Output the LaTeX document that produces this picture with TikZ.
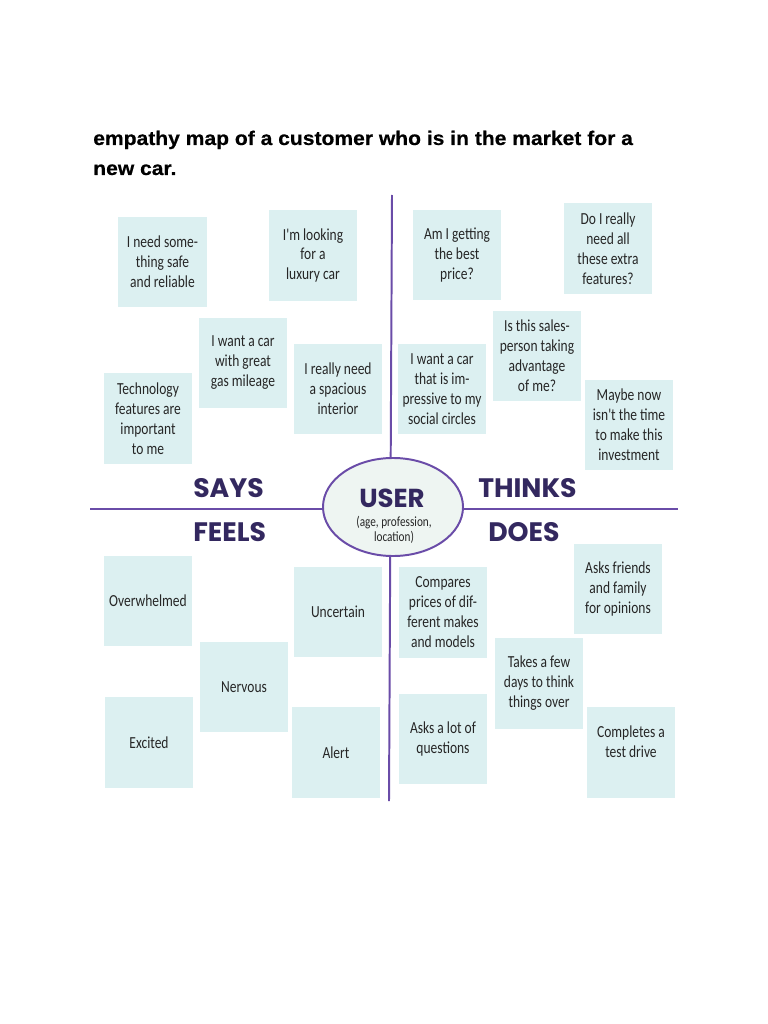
\documentclass[tikz,border=0pt]{standalone}
\usepackage{fontspec}
\setmainfont{Liberation Sans}
\newfontfamily\titlefont{Liberation Sans}[FakeStretch=1.07, BoldFeatures={FakeBold=0.5}]
\newfontfamily\handfont{Carlito}[FakeStretch=0.8]
\newfontfamily\headfont{Poppins}
\usepackage{tikz}
\usetikzlibrary{positioning, shapes.geometric}
\definecolor{empInk}{HTML}{262626}
\definecolor{empPurple}{HTML}{6A4CA8}
\definecolor{empNavy}{HTML}{33285F}
\definecolor{empNote}{HTML}{DCF0F1}
\definecolor{empCentre}{HTML}{EEF5F2}

\begin{document}
\begin{tikzpicture}[x=0.025cm, y=-0.025cm,
  note/.style={fill=empNote, minimum width=2.2cm, minimum height=2.25cm, inner sep=0pt, align=center, font=\handfont\fontsize{12}{14.2}\selectfont, text=empInk},
  axis/.style={draw=empPurple, line width=1.4pt},
  quad/.style={anchor=base west, inner sep=0pt, font=\headfont\bfseries\fontsize{19}{22}\selectfont, text=empNavy},
  maptitle/.style={anchor=base west, inner sep=0pt, font=\titlefont\bfseries\fontsize{14}{17}\selectfont, text=black}]
  \fill[white] (0,0) rectangle (768,1024);
  % title
  \node[maptitle] (t1) at (93,145) {empathy map of a customer who is in the market for a};
  \node[maptitle] (t2) at (93,175) {new car.};
  % axes and centre
  \coordinate (top) at (392,195);
  \coordinate (bot) at (389,801);
  \coordinate (lft) at (90,509);
  \coordinate (rgt) at (678,509);
  \draw[axis] (top) -- (bot);
  \draw[axis] (lft) -- (rgt);
  \node[ellipse, draw=empPurple, line width=1.4pt, fill=empCentre, minimum width=3.5cm, minimum height=2.45cm] (user) at (393,507) {};
  \node[anchor=base, inner sep=0pt, font=\headfont\bfseries\fontsize{18.5}{22}\selectfont, text=empNavy] (usr) at (392,507) {USER};
  \node[anchor=base, inner sep=0pt, font=\handfont\fontsize{10}{12}\selectfont, text=empInk] (usr1) at (394,526) {(age, profession,};
  \node[anchor=base, inner sep=0pt, font=\handfont\fontsize{10}{12}\selectfont, text=empInk] (usr2) at (394,541) {location)};
  \node[quad] (says) at (193,497) {SAYS};
  \node[quad] (thinks) at (478,497) {THINKS};
  \node[quad] (feels) at (193,541) {FEELS};
  \node[quad] (does) at (488,541) {DOES};
  % says
  \node[note] (safe) at (162.5,262) {I need some-\\thing safe\\and reliable};
  \node[note] (luxury) at (313,255.5) {I'm looking\\for a\\luxury car};
  \node[note] (gas) at (243,363) {I want a car\\with great\\gas mileage};
  \node[note] (space) at (338,389) {I really need\\a spacious\\interior};
  \node[note] (tech) at (148,418.5) {Technology\\features are\\important\\to me};
  % thinks
  \node[note] (price) at (457,255) {Am I getting\\the best\\price?};
  \node[note] (extras) at (608,248.5) {Do I really\\need all\\these extra\\features?};
  \node[note] (sales) at (537,356) {Is this sales-\\person taking\\advantage\\of me?};
  \node[note] (impress) at (442,389) {I want a car\\that is im-\\pressive to my\\social circles};
  \node[note] (maybe) at (629,425) {Maybe now\\isn't the time\\to make this\\investment};
  % feels
  \node[note] (overw) at (148,601) {Overwhelmed};
  \node[note] (uncert) at (338,612) {Uncertain};
  \node[note] (nerv) at (244,687) {Nervous};
  \node[note] (excit) at (149,742.5) {Excited};
  \node[note] (alert) at (336,752.5) {Alert};
  % does
  \node[note] (compare) at (443,612.5) {Compares\\prices of dif-\\ferent makes\\and models};
  \node[note] (friends) at (618,589) {Asks friends\\and family\\for opinions};
  \node[note] (days) at (539,683.5) {Takes a few\\days to think\\things over};
  \node[note] (quest) at (443,739) {Asks a lot of\\questions};
  \node[note, text depth=16pt] (drive) at (631,752.5) {Completes a\\test drive};
\end{tikzpicture}
\end{document}
